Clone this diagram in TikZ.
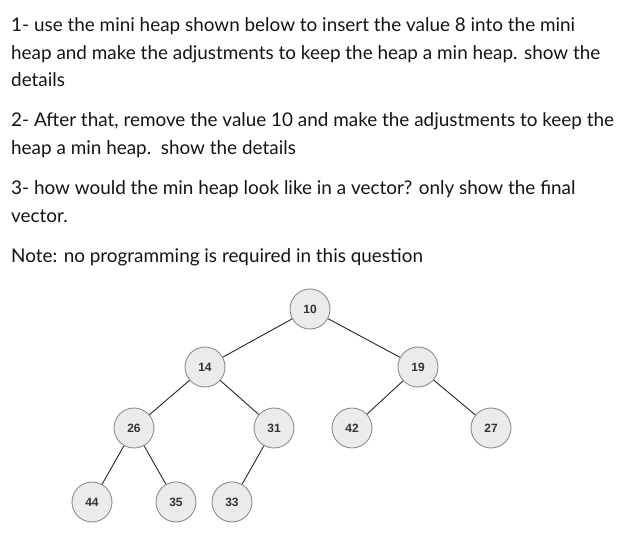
\documentclass[tikz,border=0pt]{standalone}
\usepackage{fontspec}
\setmainfont{Lato}
\newfontfamily\nodefont{Liberation Sans}
\begin{document}
\begin{tikzpicture}[x=1pt,y=-1pt,
  hn/.style={circle,draw=black!45,fill=black!8,line width=0.9pt,minimum size=40pt,inner sep=0pt,font=\nodefont\bfseries\fontsize{12}{12}\selectfont,text=black!80},
  tx/.style={anchor=base west,inner sep=0pt,font=\fontsize{18.9}{20}\selectfont,text=black!92},
  ed/.style={line width=0.9pt,black!85}]
\useasboundingbox (0,0) rectangle (622,540);
\node[tx] (l1) at (11,32) {1- use the mini heap shown below to insert the value 8 into the mini};
\node[tx] (l2) at (11,60) {heap and make the adjustments to keep the heap a min heap. show the};
\node[tx] (l3) at (11,87) {details};
\node[tx] (l4) at (11,127) {2- After that, remove the value 10 and make the adjustments to keep the};
\node[tx] (l5) at (11,155) {heap a min heap.\ \ show the details};
\node[tx] (l6) at (11,195) {3- how would the min heap look like in a vector? only show the final};
\node[tx] (l7) at (11,223) {vector.};
\node[tx] (l8) at (11,263) {Note: no programming is required in this question};
\node[hn] (n10) at (310,309) {10};
\node[hn] (n14) at (205,367) {14};
\node[hn] (n19) at (418,367) {19};
\node[hn] (n26) at (134,428) {26};
\node[hn] (n31) at (274,428) {31};
\node[hn] (n42) at (352,428) {42};
\node[hn] (n27) at (491,428) {27};
\node[hn] (n44) at (92,502) {44};
\node[hn] (n35) at (176,502) {35};
\node[hn] (n33) at (232,502) {33};
\draw[ed] (n10)--(n14); \draw[ed] (n10)--(n19);
\draw[ed] (n14)--(n26); \draw[ed] (n14)--(n31);
\draw[ed] (n19)--(n42); \draw[ed] (n19)--(n27);
\draw[ed] (n26)--(n44); \draw[ed] (n26)--(n35);
\draw[ed] (n31)--(n33);
\end{tikzpicture}
\end{document}
